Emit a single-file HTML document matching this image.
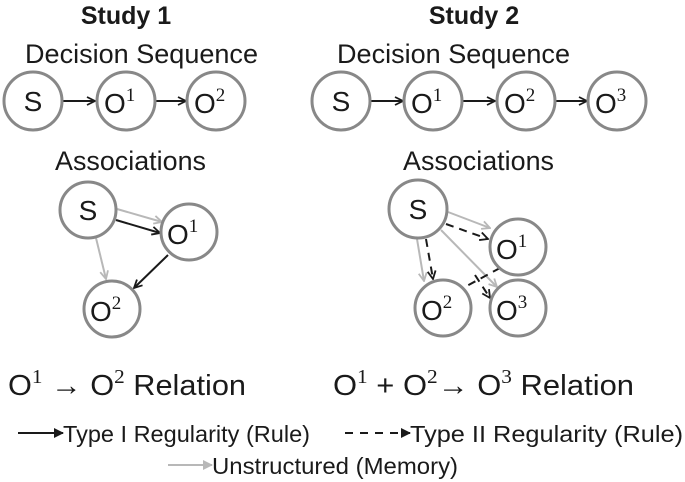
<!DOCTYPE html>
<html><head><style>body{margin:0;background:#fff}svg{display:block}text{font-family:"Liberation Sans",Arial,sans-serif;fill:#1a1a1a}</style></head><body>
<svg width="685" height="482" viewBox="0 0 685 482" xmlns="http://www.w3.org/2000/svg">
<defs>
<marker id="ab" markerWidth="10" markerHeight="10" refX="9" refY="5" orient="auto" markerUnits="userSpaceOnUse"><path d="M1,1 L9,5 L1,9" fill="none" stroke="#1a1a1a" stroke-width="1.8"/></marker>
<marker id="ag" markerWidth="10" markerHeight="10" refX="9" refY="5" orient="auto" markerUnits="userSpaceOnUse"><path d="M1,1 L9,5 L1,9" fill="none" stroke="#b8b8b8" stroke-width="1.8"/></marker>
<marker id="af" markerWidth="10" markerHeight="10" refX="9" refY="5" orient="auto" markerUnits="userSpaceOnUse"><path d="M0,0 L10,5 L0,10Z" fill="#1a1a1a"/></marker>
<marker id="afg" markerWidth="10" markerHeight="10" refX="9" refY="5" orient="auto" markerUnits="userSpaceOnUse"><path d="M0,0 L10,5 L0,10Z" fill="#b8b8b8"/></marker>
</defs>
<g text-anchor="middle">
<text x="126" y="24" font-size="25" font-weight="bold">Study 1</text>
<text x="474" y="24" font-size="25" font-weight="bold">Study 2</text>
</g>
<g font-size="27">
<text x="25" y="63" textLength="233" lengthAdjust="spacingAndGlyphs">Decision Sequence</text>
<text x="337" y="63" textLength="233" lengthAdjust="spacingAndGlyphs">Decision Sequence</text>
<text x="55" y="170" textLength="151" lengthAdjust="spacingAndGlyphs">Associations</text>
<text x="403" y="170" textLength="151" lengthAdjust="spacingAndGlyphs">Associations</text>
</g>
<g fill="none" stroke-width="2">
<line x1="63" y1="101" x2="95" y2="101" stroke="#1a1a1a" marker-end="url(#ab)"/>
<line x1="156" y1="101" x2="186" y2="101" stroke="#1a1a1a" marker-end="url(#ab)"/>
<line x1="371" y1="101" x2="403" y2="101" stroke="#1a1a1a" marker-end="url(#ab)"/>
<line x1="463" y1="101" x2="495" y2="101" stroke="#1a1a1a" marker-end="url(#ab)"/>
<line x1="556" y1="101" x2="587" y2="101" stroke="#1a1a1a" marker-end="url(#ab)"/>
<line x1="117" y1="209" x2="162" y2="222" stroke="#b8b8b8" marker-end="url(#ag)"/>
<line x1="116" y1="220" x2="160" y2="233" stroke="#1a1a1a" marker-end="url(#ab)"/>
<line x1="96" y1="238" x2="106" y2="279" stroke="#b8b8b8" marker-end="url(#ag)"/>
<line x1="168" y1="255" x2="134" y2="288" stroke="#1a1a1a" marker-end="url(#ab)"/>
<line x1="448" y1="212" x2="490" y2="228" stroke="#b8b8b8" marker-end="url(#ag)"/>
<line x1="446" y1="224" x2="488" y2="239" stroke="#1a1a1a" stroke-dasharray="8,6" marker-end="url(#ab)"/>
<line x1="417" y1="239" x2="424" y2="281" stroke="#b8b8b8" marker-end="url(#ag)"/>
<line x1="426" y1="239" x2="433" y2="279" stroke="#1a1a1a" stroke-dasharray="8,6" marker-end="url(#ab)"/>
<line x1="441" y1="230" x2="497" y2="287" stroke="#b8b8b8" marker-end="url(#ag)"/>
<line x1="500" y1="268" x2="463" y2="288" stroke="#1a1a1a" stroke-dasharray="8,6"/>
<line x1="475" y1="275" x2="490" y2="298" stroke="#1a1a1a" stroke-dasharray="8,6" marker-end="url(#ab)"/>
</g>
<g fill="#fff" stroke="#888" stroke-width="3">
<circle cx="33" cy="101" r="29"/><circle cx="126" cy="101" r="29"/><circle cx="216" cy="101" r="29"/>
<circle cx="341" cy="101" r="29"/><circle cx="433" cy="101" r="29"/><circle cx="526" cy="101" r="29"/><circle cx="617" cy="101" r="29"/>
<circle cx="88" cy="210" r="28"/><circle cx="189" cy="232" r="28"/><circle cx="112" cy="309" r="28"/>
<circle cx="418" cy="209" r="29"/><circle cx="518" cy="247" r="28"/><circle cx="443" cy="308" r="28"/><circle cx="518" cy="308" r="28"/>
</g>
<g font-size="28">
<text x="33" y="111" text-anchor="middle">S</text>
<text x="104" y="113">O<tspan font-family="Liberation Serif" font-size="19" dy="-12">1</tspan></text>
<text x="194" y="113">O<tspan font-family="Liberation Serif" font-size="19" dy="-12">2</tspan></text>
<text x="341" y="111" text-anchor="middle">S</text>
<text x="411" y="113">O<tspan font-family="Liberation Serif" font-size="19" dy="-12">1</tspan></text>
<text x="504" y="113">O<tspan font-family="Liberation Serif" font-size="19" dy="-12">2</tspan></text>
<text x="595" y="113">O<tspan font-family="Liberation Serif" font-size="19" dy="-12">3</tspan></text>
<text x="88" y="220" text-anchor="middle">S</text>
<text x="167" y="244">O<tspan font-family="Liberation Serif" font-size="19" dy="-12">1</tspan></text>
<text x="90" y="321">O<tspan font-family="Liberation Serif" font-size="19" dy="-12">2</tspan></text>
<text x="418" y="219" text-anchor="middle">S</text>
<text x="496" y="259">O<tspan font-family="Liberation Serif" font-size="19" dy="-12">1</tspan></text>
<text x="421" y="320">O<tspan font-family="Liberation Serif" font-size="19" dy="-12">2</tspan></text>
<text x="496" y="320">O<tspan font-family="Liberation Serif" font-size="19" dy="-12">3</tspan></text>
</g>
<g font-size="29">
<text x="8" y="395" textLength="238" lengthAdjust="spacingAndGlyphs">O<tspan font-family="Liberation Serif" font-size="20" dy="-12">1</tspan><tspan dy="12"> → O</tspan><tspan font-family="Liberation Serif" font-size="20" dy="-12">2</tspan><tspan dy="12"> Relation</tspan></text>
<text x="333" y="395" textLength="301" lengthAdjust="spacingAndGlyphs">O<tspan font-family="Liberation Serif" font-size="20" dy="-12">1</tspan><tspan dy="12"> + O</tspan><tspan font-family="Liberation Serif" font-size="20" dy="-12">2</tspan><tspan dy="12">→ O</tspan><tspan font-family="Liberation Serif" font-size="20" dy="-12">3</tspan><tspan dy="12"> Relation</tspan></text>
</g>
<g stroke-width="2">
<line x1="18" y1="433" x2="63" y2="433" stroke="#1a1a1a" marker-end="url(#af)"/>
<line x1="345" y1="433" x2="410" y2="433" stroke="#1a1a1a" stroke-dasharray="8,7" marker-end="url(#af)"/>
<line x1="168" y1="465" x2="212" y2="465" stroke="#b8b8b8" marker-end="url(#afg)"/>
</g>
<g font-size="23">
<text x="63" y="442" textLength="247" lengthAdjust="spacingAndGlyphs">Type I Regularity (Rule)</text>
<text x="410" y="442" textLength="273" lengthAdjust="spacingAndGlyphs">Type II Regularity (Rule)</text>
<text x="212" y="474" textLength="246" lengthAdjust="spacingAndGlyphs">Unstructured (Memory)</text>
</g>
</svg>
</body></html>
